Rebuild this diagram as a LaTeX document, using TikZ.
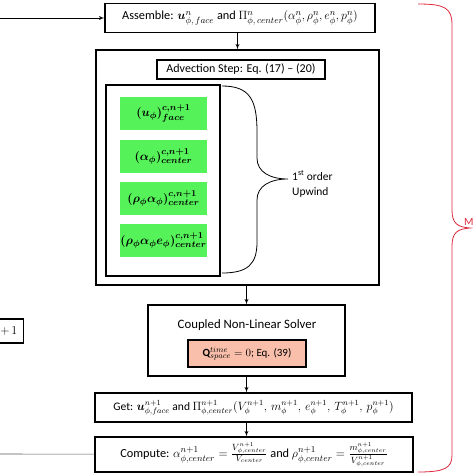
\documentclass[tikz,border=0pt]{standalone}
\usepackage{amsmath}
\usepackage{amssymb}
\usepackage{fontspec}
\setmainfont{Carlito}
\usetikzlibrary{arrows,positioning,calc}
\definecolor{boxgreen}{RGB}{85,242,90}
\definecolor{boxsalmon}{RGB}{249,191,170}
\definecolor{bracered}{RGB}{222,40,60}
\tikzset{
block/.style = {draw, line width=1.4pt, fill=white, rectangle, inner sep=0pt, font=\fontsize{12.3}{14}\selectfont},
frame/.style = {draw, line width=1.4pt, rectangle, inner sep=0pt},
greenbox/.style = {fill=boxgreen, rectangle, minimum width=87pt, minimum height=33pt, inner sep=0pt, font=\fontsize{12.5}{14}\selectfont},
solverbox/.style = {draw, line width=1.4pt, fill=boxsalmon, rectangle, minimum width=118pt, minimum height=27pt, inner sep=0pt, font=\fontsize{11}{13}\selectfont},
tmp/.style  = {coordinate},
link/.style = {->, line width=0.8pt}
}

\begin{document}
\begin{tikzpicture}[x=1pt, y=-1pt, >=latex']
  \useasboundingbox (0,0) rectangle (474,474);
  % main column
  \node [block, minimum width=270pt, minimum height=29pt]   (assemble) at (240,18)
        {Assemble: $\boldsymbol{u}^{n}_{\phi,\,face}$ and $\Pi^{n}_{\phi,\,center}(\alpha^{n}_{\phi},\rho^{n}_{\phi},e^{n}_{\phi},p^{n}_{\phi})$};
  \node [frame, minimum width=283pt, minimum height=235pt] (advection) at (237.5,167.5) {};
  \node [block, minimum width=168pt, minimum height=19pt, font=\fontsize{12}{14}\selectfont] (advstep) at (241,69.5)
        {Advection Step: Eq. (17) -- (20)};
  \node [frame, minimum width=114pt, minimum height=191pt] (upwindbox) at (163,180.5) {};
  \node [greenbox] (gface)   at (163.5,113.5) {$\boldsymbol{(u_{\phi})^{c,n+1}_{face}}$};
  \node [greenbox] (galpha)  at (163.5,156)   {$\boldsymbol{(\alpha_{\phi})^{c,n+1}_{center}}$};
  \node [greenbox] (grho)    at (163.5,198)   {$\boldsymbol{(\rho_{\phi}\alpha_{\phi})^{c,n+1}_{center}}$};
  \node [greenbox] (genergy) at (163.5,240.5) {$\boldsymbol{(\rho_{\phi}\alpha_{\phi}e_{\phi})^{c,n+1}_{center}}$};
  \node [align=left, anchor=west, inner sep=0pt, font=\fontsize{11.5}{15}\selectfont] (upwind) at (292,184)
        {1\textsuperscript{st} order\\Upwind};
  \node [frame, minimum width=197pt, minimum height=71pt]  (coupled)   at (246.5,340.5) {};
  \node [inner sep=0pt, font=\fontsize{12.8}{14}\selectfont] (solvername) at (247,325) {Coupled Non-Linear Solver};
  \node [solverbox] (residual) at (247,353.5) {$\mathbf{Q}^{time}_{space}=0$; Eq. (39)};
  \node [block, minimum width=317pt, minimum height=29pt, font=\fontsize{11.5}{14}\selectfont] (get) at (253.5,407.5)
        {Get: $\boldsymbol{u}^{n+1}_{\phi,face}$ and $\Pi^{n+1}_{\phi,center}(V^{n+1}_{\phi},\,m^{n+1}_{\phi},\,e^{n+1}_{\phi},\,T^{n+1}_{\phi},\,p^{n+1}_{\phi})$};
  \node [block, minimum width=318pt, minimum height=35pt]  (compute)   at (254,454.5)
        {Compute: $\alpha^{n+1}_{\phi,center}=\frac{V^{n+1}_{\phi,center}}{V_{center}}$ and $\rho^{n+1}_{\phi,center}=\frac{m^{n+1}_{\phi,center}}{V^{n+1}_{\phi,center}}$};
  % time loop
  \node [block, text width=28pt, align=right, inner xsep=6pt, minimum height=24pt, anchor=east] (timestep) at (24,331) {$+\,1$};
  \node [tmp] (loopin)  at (0,18) {};
  \node [tmp] (loopout) at (0,454) {};
  \node [text=bracered, anchor=west, inner sep=0pt, font=\fontsize{11}{12}\selectfont] (marker) at (464,222) {M};

  \draw [link] (loopin) -- (assemble);
  \draw [link] (advection.north |- assemble.south) -- (advection.north);
  \draw [link] (coupled.north |- advection.south) -- (coupled.north);
  \draw [link] (coupled.south) -- (coupled.south |- get.north);
  \draw [link] (coupled.south |- get.south) -- (coupled.south |- compute.north);
  \draw [gray!70!black, line width=0.6pt] (compute) -- (loopout);
  % braces
  \draw [line width=0.8pt] (222,86) .. controls (250,86) and (257,100) .. (257,132) -- (257,158)
        .. controls (257,172) and (270,179) .. (288,179)
        .. controls (270,179) and (257,186) .. (257,200) -- (257,242)
        .. controls (257,264) and (248,273) .. (222,273);
  \draw [bracered, line width=0.8pt] (418,4) .. controls (445,4) and (452,8) .. (452,25) -- (452,210)
        .. controls (452,224) and (458,227) .. (470,228)
        .. controls (458,229) and (452,232) .. (452,246) -- (452,455)
        .. controls (452,468) and (445,472) .. (418,472);
\end{tikzpicture}
\end{document}
